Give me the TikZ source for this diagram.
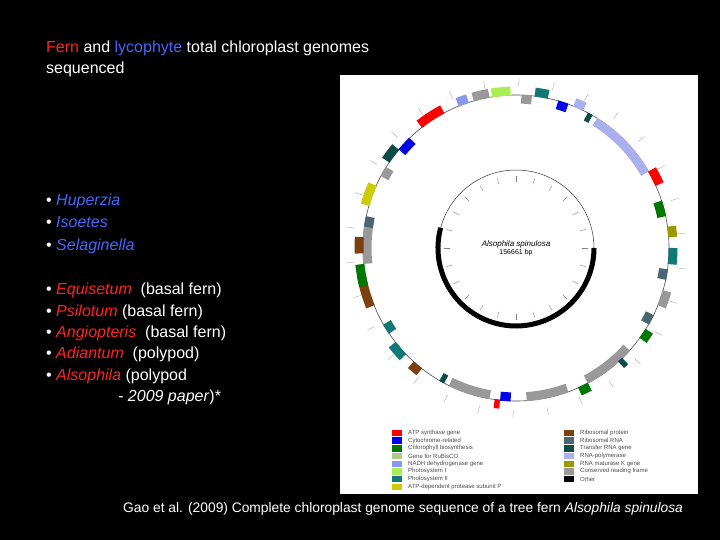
\documentclass[tikz,border=0pt]{standalone}
\usepackage{fontspec}
\setmainfont{Liberation Sans}
\begin{document}
\begin{tikzpicture}[x=1pt,y=-1pt,
  txt/.style={anchor=base west,inner sep=0,text=white,font=\fontsize{16}{19}\selectfont},
  leg/.style={anchor=west,inner sep=0,font=\fontsize{6}{7}\selectfont,text=black!70},
  gene/.style={line width=9pt}]
\definecolor{bl}{HTML}{4466FF}\definecolor{rd}{HTML}{FF2222}
\definecolor{gA}{HTML}{FF0000}\definecolor{gB}{HTML}{0000EE}\definecolor{gC}{HTML}{007700}
\definecolor{gD}{HTML}{AACC88}\definecolor{gE}{HTML}{8899EE}\definecolor{gF}{HTML}{AAEE55}
\definecolor{gG}{HTML}{117777}\definecolor{gH}{HTML}{CCCC00}\definecolor{gI}{HTML}{7A4010}
\definecolor{gJ}{HTML}{4A6670}\definecolor{gK}{HTML}{0E4A48}\definecolor{gL}{HTML}{AAB0EE}
\definecolor{gM}{HTML}{999900}\definecolor{gN}{HTML}{999999}
\fill[black] (0,0) rectangle (720,540);
\useasboundingbox (0,0) rectangle (720,540);
\node[txt] (t1) at (46,53) {\textcolor{rd}{Fern} and \textcolor{bl}{lycophyte} total chloroplast genomes};
\node[txt] (t2) at (46,74) {sequenced};
\fill[white] (340,75) rectangle (698,494);
\node[txt] (b1) at (46,206) {• \textcolor{bl}{\textit{Huperzia}}};
\node[txt] (b2) at (46,228) {• \textcolor{bl}{\textit{Isoetes}}};
\node[txt] (b3) at (46,250) {• \textcolor{bl}{\textit{Selaginella}}};
\node[txt] (b4) at (46,294) {• \textcolor{rd}{\textit{Equisetum}}\ \ (basal fern)};
\node[txt] (b5) at (46,316) {• \textcolor{rd}{\textit{Psilotum}} (basal fern)};
\node[txt] (b6) at (46,337) {• \textcolor{rd}{\textit{Angiopteris}}\ \ (basal fern)};
\node[txt] (b7) at (46,358) {• \textcolor{rd}{\textit{Adiantum}}\ \ (polypod)};
\node[txt] (b8) at (46,380) {• \textcolor{rd}{\textit{Alsophila}} (polypod};
\node[txt] (b9) at (118,401) {\textit{- 2009 paper})*};
\node[anchor=base west,inner sep=0,text=white,font=\fontsize{13.8}{16}\selectfont] (cap) at (123,512) {Gao et al. (2009) Complete chloroplast genome sequence of a tree fern \textit{Alsophila spinulosa}};
% genome map
\begin{scope}[shift={(516,248)},yscale=-1]
\draw[black!70,line width=0.6pt] (0,0) circle[radius=153];
\draw[black!80,line width=0.5pt] (0,0) circle[radius=78];
\draw[line width=5pt] (-195:78) arc[start angle=-195,end angle=0,radius=78];
\foreach \a in {0,15,...,345}{\draw[black!50,line width=0.4pt] (\a:72) -- (\a:66);}
\foreach \s/\e/\col/\r in {
 118/128/gA/157, 134/140/gB/149, 140/146/gK/157, 148/152/gN/149, 100/106/gN/157, 92/99/gF/157,
 84/88/gN/149, 78/83/gG/157, 70/74/gB/149, 64/68/gL/157, 30/58/gL/149, 24/30/gA/157,
 12/18/gC/149, 4/8/gM/157, -6/0/gG/157, -12/-8/gJ/149, -22/-16/gN/157, -30/-26/gJ/149,
 -36/-32/gC/157, -62/-42/gN/149, -66/-62/gC/157, -86/-70/gN/149, -96/-92/gB/149,
 -98/-96/gA/157, -116/-100/gN/149, -132/-128/gI/157, -142/-136/gG/157, -150/-146/gG/149,
 -170/-158/gI/157, -190/-174/gN/149, 156/164/gH/157, 168/172/gJ/149, 176/182/gI/157, 186/194/gC/157,
 108/112/gE/157, 60/62/gK/149, -48/-46/gK/157, -120/-118/gK/149}
{\draw[gene,color=\col] (\s:\r) arc[start angle=\s,end angle=\e,radius=\r];}
\foreach \a in {5,17,...,355}{\draw[black!40,line width=0.3pt] (\a:162) -- (\a:170);}
\end{scope}
\node[font=\fontsize{8}{9}\selectfont\itshape,inner sep=0] (sp) at (516,244) {Alsophila spinulosa};
\node[font=\fontsize{7}{8}\selectfont,inner sep=0] (bp) at (516,253) {156661 bp};
% legend
\foreach \col/\lab [count=\i] in {gA/ATP synthase gene,gB/Cytochrome-related,gC/Chlorophyll biosynthesis,gD/Gene for RuBisCO,gE/NADH dehydrogenase gene,gF/Photosystem I,gG/Photosystem II,gH/ATP-dependent protease subunit P}
{\fill[\col] (392,422+7.7*\i) rectangle (402,428.5+7.7*\i);
 \node[leg] (l\i) at (408,425.2+7.7*\i) {\lab};}
\foreach \col/\lab [count=\i] in {gI/Ribosomal protein,gJ/Ribosomal RNA,gK/Transfer RNA gene,gL/RNA-polymerase,gM/RNA maturase K gene,gN/Conserved reading frame,black/Other}
{\fill[\col] (564,422+7.7*\i) rectangle (574,428.5+7.7*\i);
 \node[leg] (r\i) at (580,425.2+7.7*\i) {\lab};}
\end{tikzpicture}
\end{document}
